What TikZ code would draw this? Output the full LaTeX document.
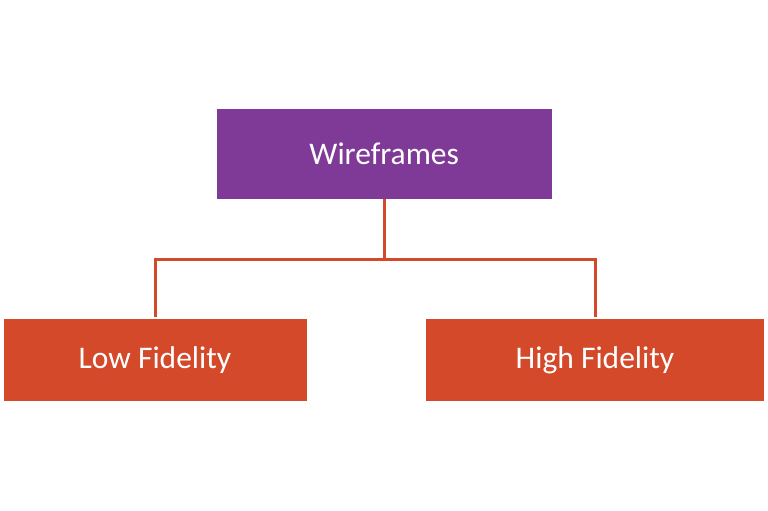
\documentclass[tikz,border=0pt]{standalone}
\usepackage{fontspec}
\setmainfont{Carlito}
\usetikzlibrary{positioning, calc}

\definecolor{wfpurple}{HTML}{7F3A98}
\definecolor{wforange}{HTML}{D4492A}

\begin{document}
\begin{tikzpicture}[
    x=1pt, y=1pt,
    topbox/.style={rectangle, fill=wfpurple, text=white, minimum width=335pt,
                   minimum height=90pt, font=\fontsize{31.5}{36}\selectfont},
    leafbox/.style={rectangle, fill=wforange, text=white, minimum height=82pt,
                    font=\fontsize{31.5}{36}\selectfont},
    link/.style={draw=wforange, line width=3pt, shorten >=2pt}
]
    \useasboundingbox (0, 0) rectangle (768, 511);

    % === Boxes ===
    \node[topbox] (wire) at (384.2, 357) {Wireframes};
    \node[leafbox, minimum width=303pt] (low) at (155, 150.5) {Low Fidelity};
    \node[leafbox, minimum width=338pt] (high) at (595, 150.5) {High Fidelity};

    % === Connectors ===
    \coordinate (split) at ($(wire.south)+(0, -60)$);
    \draw[link, shorten >=0pt] (wire.south) -- (split);
    \draw[link] (split) -| (low.north);
    \draw[link] (split) -| (high.north);

\end{tikzpicture}
\end{document}
